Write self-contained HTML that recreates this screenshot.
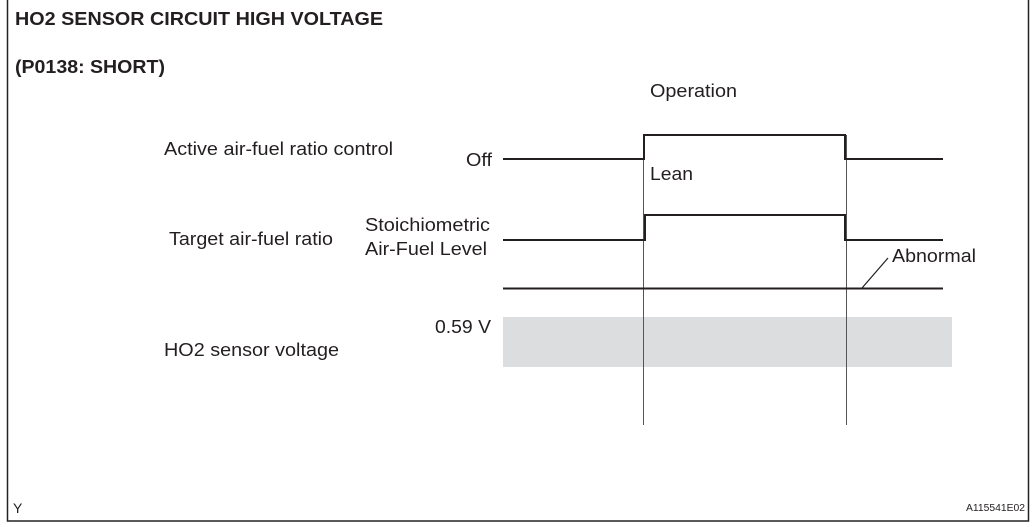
<!DOCTYPE html>
<html><head><style>
body{margin:0;background:#fff;}
svg{display:block;font-family:"Liberation Sans",Arial,sans-serif;}
</style></head><body>
<svg width="1036" height="527" viewBox="0 0 1036 527">
<rect x="7.5" y="-2" width="1021" height="523" fill="none" stroke="#222" stroke-width="1.5"/>
<text x="15" y="25" font-size="18" font-weight="bold" fill="#231f20" textLength="368" lengthAdjust="spacingAndGlyphs">HO2 SENSOR CIRCUIT HIGH VOLTAGE</text>
<text x="15" y="73" font-size="18" font-weight="bold" fill="#231f20" textLength="150" lengthAdjust="spacingAndGlyphs">(P0138: SHORT)</text>
<text x="650" y="97" font-size="18" fill="#231f20" textLength="87" lengthAdjust="spacingAndGlyphs">Operation</text>
<text x="164" y="155" font-size="18" fill="#231f20" textLength="229" lengthAdjust="spacingAndGlyphs">Active air-fuel ratio control</text>
<text x="466" y="166" font-size="18" fill="#231f20" textLength="26" lengthAdjust="spacingAndGlyphs">Off</text>
<text x="650" y="180" font-size="18" fill="#231f20" textLength="43" lengthAdjust="spacingAndGlyphs">Lean</text>
<text x="169" y="245" font-size="18" fill="#231f20" textLength="164" lengthAdjust="spacingAndGlyphs">Target air-fuel ratio</text>
<text x="365" y="231" font-size="18" fill="#231f20" textLength="125" lengthAdjust="spacingAndGlyphs">Stoichiometric</text>
<text x="365" y="255" font-size="18" fill="#231f20" textLength="122" lengthAdjust="spacingAndGlyphs">Air-Fuel Level</text>
<text x="892" y="262" font-size="18" fill="#231f20" textLength="84" lengthAdjust="spacingAndGlyphs">Abnormal</text>
<text x="435" y="333" font-size="18" fill="#231f20" textLength="56" lengthAdjust="spacingAndGlyphs">0.59 V</text>
<text x="164" y="356" font-size="18" fill="#231f20" textLength="175" lengthAdjust="spacingAndGlyphs">HO2 sensor voltage</text>
<text x="13" y="513" font-size="14" fill="#231f20">Y</text>
<text x="966" y="511" font-size="10" fill="#231f20" textLength="59" lengthAdjust="spacingAndGlyphs">A115541E02</text>
<rect x="503" y="317" width="449" height="50" fill="#dcdddf"/>
<line x1="643.5" y1="135" x2="643.5" y2="425" stroke="#555" stroke-width="1"/>
<line x1="846.5" y1="135" x2="846.5" y2="425" stroke="#555" stroke-width="1"/>
<polyline points="503,159 644,159 644,135 845,135 845,159 943,159" fill="none" stroke="#231f20" stroke-width="2"/>
<polyline points="503,240 645,240 645,215 845,215 845,240 943,240" fill="none" stroke="#231f20" stroke-width="2"/>
<line x1="503" y1="288.5" x2="943" y2="288.5" stroke="#231f20" stroke-width="2"/>
<line x1="862" y1="288" x2="888" y2="258" stroke="#231f20" stroke-width="1.2"/>
</svg>
</body></html>
